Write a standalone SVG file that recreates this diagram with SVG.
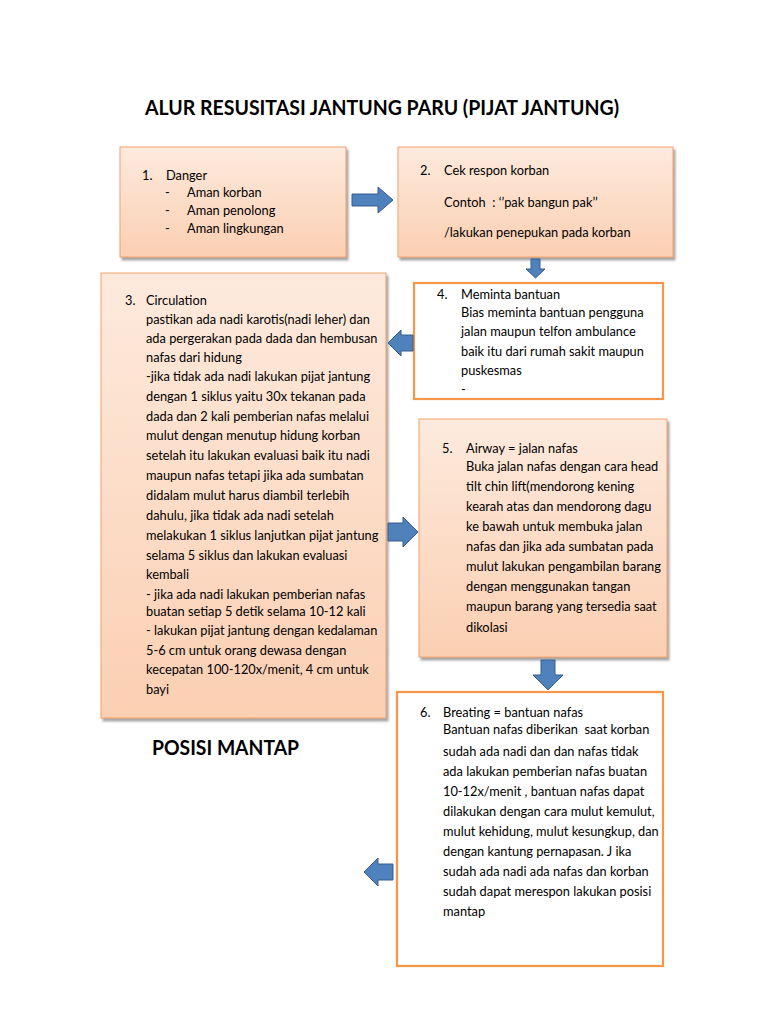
<svg xmlns="http://www.w3.org/2000/svg" width="768" height="1024" viewBox="0 0 768 1024">
<defs>
<linearGradient id="peach" x1="0" y1="0" x2="0" y2="1">
<stop offset="0" stop-color="#fdeadd"/>
<stop offset="1" stop-color="#fbcfb2"/>
</linearGradient>
<filter id="sh" x="-5%" y="-5%" width="115%" height="115%">
<feDropShadow dx="2" dy="3" stdDeviation="1.2" flood-color="#7f7f7f" flood-opacity="0.7"/>
</filter>
</defs>
<style>
text{font-family:Lato,"Open Sans","Liberation Sans",sans-serif;font-size:12.8px;fill:#000}
.title{font-size:20px;font-weight:bold;fill:#000}
.gbox{fill:url(#peach);stroke:#f4a26a;stroke-width:1;filter:url(#sh)}
.wbox{fill:#fff;stroke:#f79646;stroke-width:2.2}
.arr{fill:#4f81bd;stroke:#385d8a;stroke-width:1}
</style>
<rect width="768" height="1024" fill="#fff"/>
<text class="title" x="145" y="115" textLength="474" lengthAdjust="spacingAndGlyphs">ALUR RESUSITASI JANTUNG PARU (PIJAT JANTUNG)</text>
<text class="title" x="152" y="755" textLength="147" lengthAdjust="spacingAndGlyphs">POSISI MANTAP</text>

<g id="node1">
<rect class="gbox" x="120" y="147" width="226" height="110"/>
<text x="142" y="180">1.</text><text x="166" y="180">Danger</text>
<text x="165" y="197">-</text><text x="187" y="197">Aman korban</text>
<text x="165" y="215">-</text><text x="187" y="215">Aman penolong</text>
<text x="165" y="233">-</text><text x="187" y="233">Aman lingkungan</text>
</g>

<g id="node2">
<rect class="gbox" x="398" y="147" width="275" height="110"/>
<text x="420" y="175">2.</text><text x="444" y="175">Cek respon korban</text>
<text x="444" y="207" xml:space="preserve">Contoh  : ‘’pak bangun pak’’</text>
<text x="444" y="237">/lakukan penepukan pada korban</text>
</g>

<g id="node3">
<rect class="gbox" x="101" y="273" width="285" height="445"/>
<text x="125" y="305">3.</text><text x="146" y="305">Circulation</text>
<text x="146" y="324">pastikan ada nadi karotis(nadi leher) dan</text>
<text x="146" y="343">ada pergerakan pada dada dan hembusan</text>
<text x="146" y="362">nafas dari hidung</text>
<text x="146" y="381">-jika tidak ada nadi lakukan pijat jantung</text>
<text x="146" y="401">dengan 1 siklus yaitu 30x tekanan pada</text>
<text x="146" y="421">dada dan 2 kali pemberian nafas melalui</text>
<text x="146" y="440">mulut dengan menutup hidung korban</text>
<text x="146" y="460">setelah itu lakukan evaluasi baik itu nadi</text>
<text x="146" y="480">maupun nafas tetapi jika ada sumbatan</text>
<text x="146" y="500">didalam mulut harus diambil terlebih</text>
<text x="146" y="520">dahulu, jika tidak ada nadi setelah</text>
<text x="146" y="540">melakukan 1 siklus lanjutkan pijat jantung</text>
<text x="146" y="560">selama 5 siklus dan lakukan evaluasi</text>
<text x="146" y="579">kembali</text>
<text x="146" y="599">- jika ada nadi lakukan pemberian nafas</text>
<text x="146" y="616">buatan setiap 5 detik selama 10-12 kali</text>
<text x="146" y="635">- lakukan pijat jantung dengan kedalaman</text>
<text x="146" y="655">5-6 cm untuk orang dewasa dengan</text>
<text x="146" y="674">kecepatan 100-120x/menit, 4 cm untuk</text>
<text x="146" y="694">bayi</text>
</g>

<g id="node4">
<rect class="wbox" x="414" y="283" width="249" height="116"/>
<text x="437" y="299">4.</text><text x="461" y="299">Meminta bantuan</text>
<text x="461" y="317">Bias meminta bantuan pengguna</text>
<text x="461" y="336">jalan maupun telfon ambulance</text>
<text x="461" y="356">baik itu dari rumah sakit maupun</text>
<text x="461" y="375">puskesmas</text>
<text x="461" y="394">-</text>
</g>

<g id="node5">
<rect class="gbox" x="419" y="419" width="248" height="238"/>
<text x="442" y="453">5.</text><text x="466" y="453">Airway = jalan nafas</text>
<text x="466" y="471">Buka jalan nafas dengan cara head</text>
<text x="466" y="491">tilt chin lift(mendorong kening</text>
<text x="466" y="511">kearah atas dan mendorong dagu</text>
<text x="466" y="531">ke bawah untuk membuka jalan</text>
<text x="466" y="551">nafas dan jika ada sumbatan pada</text>
<text x="466" y="571">mulut lakukan pengambilan barang</text>
<text x="466" y="591">dengan menggunakan tangan</text>
<text x="466" y="611">maupun barang yang tersedia saat</text>
<text x="466" y="632">dikolasi</text>
</g>

<g id="node6">
<rect class="wbox" x="397" y="692" width="266" height="274"/>
<text x="420" y="717">6.</text><text x="443" y="717">Breating = bantuan nafas</text>
<text x="443" y="734" xml:space="preserve">Bantuan nafas diberikan  saat korban</text>
<text x="443" y="756">sudah ada nadi dan dan nafas tidak</text>
<text x="443" y="776">ada lakukan pemberian nafas buatan</text>
<text x="443" y="796">10-12x/menit , bantuan nafas dapat</text>
<text x="443" y="816">dilakukan dengan cara mulut kemulut,</text>
<text x="443" y="836">mulut kehidung, mulut kesungkup, dan</text>
<text x="443" y="856">dengan kantung pernapasan. J ika</text>
<text x="443" y="876">sudah ada nadi ada nafas dan korban</text>
<text x="443" y="896">sudah dapat merespon lakukan posisi</text>
<text x="443" y="916">mantap</text>
</g>

<g id="connectors">
<path class="arr" d="M352,194 H378 V187 L393,200 L378,213 V206 H352 Z"/>
<path class="arr" d="M531,259 H540 V269 H545 L535.5,278 L526,269 H531 Z"/>
<path class="arr" d="M413,335 V351 H401 V356 L388,343 L401,330 V335 Z"/>
<path class="arr" d="M388,523 H403 V517 L418,532 L403,547 V541 H388 Z"/>
<path class="arr" d="M541,660 H555 V675 H563 L548,690 L533,675 H541 Z"/>
<path class="arr" d="M393,864 V880 H378 V886 L364,872 L378,858 V864 Z"/>
</g>
</svg>
